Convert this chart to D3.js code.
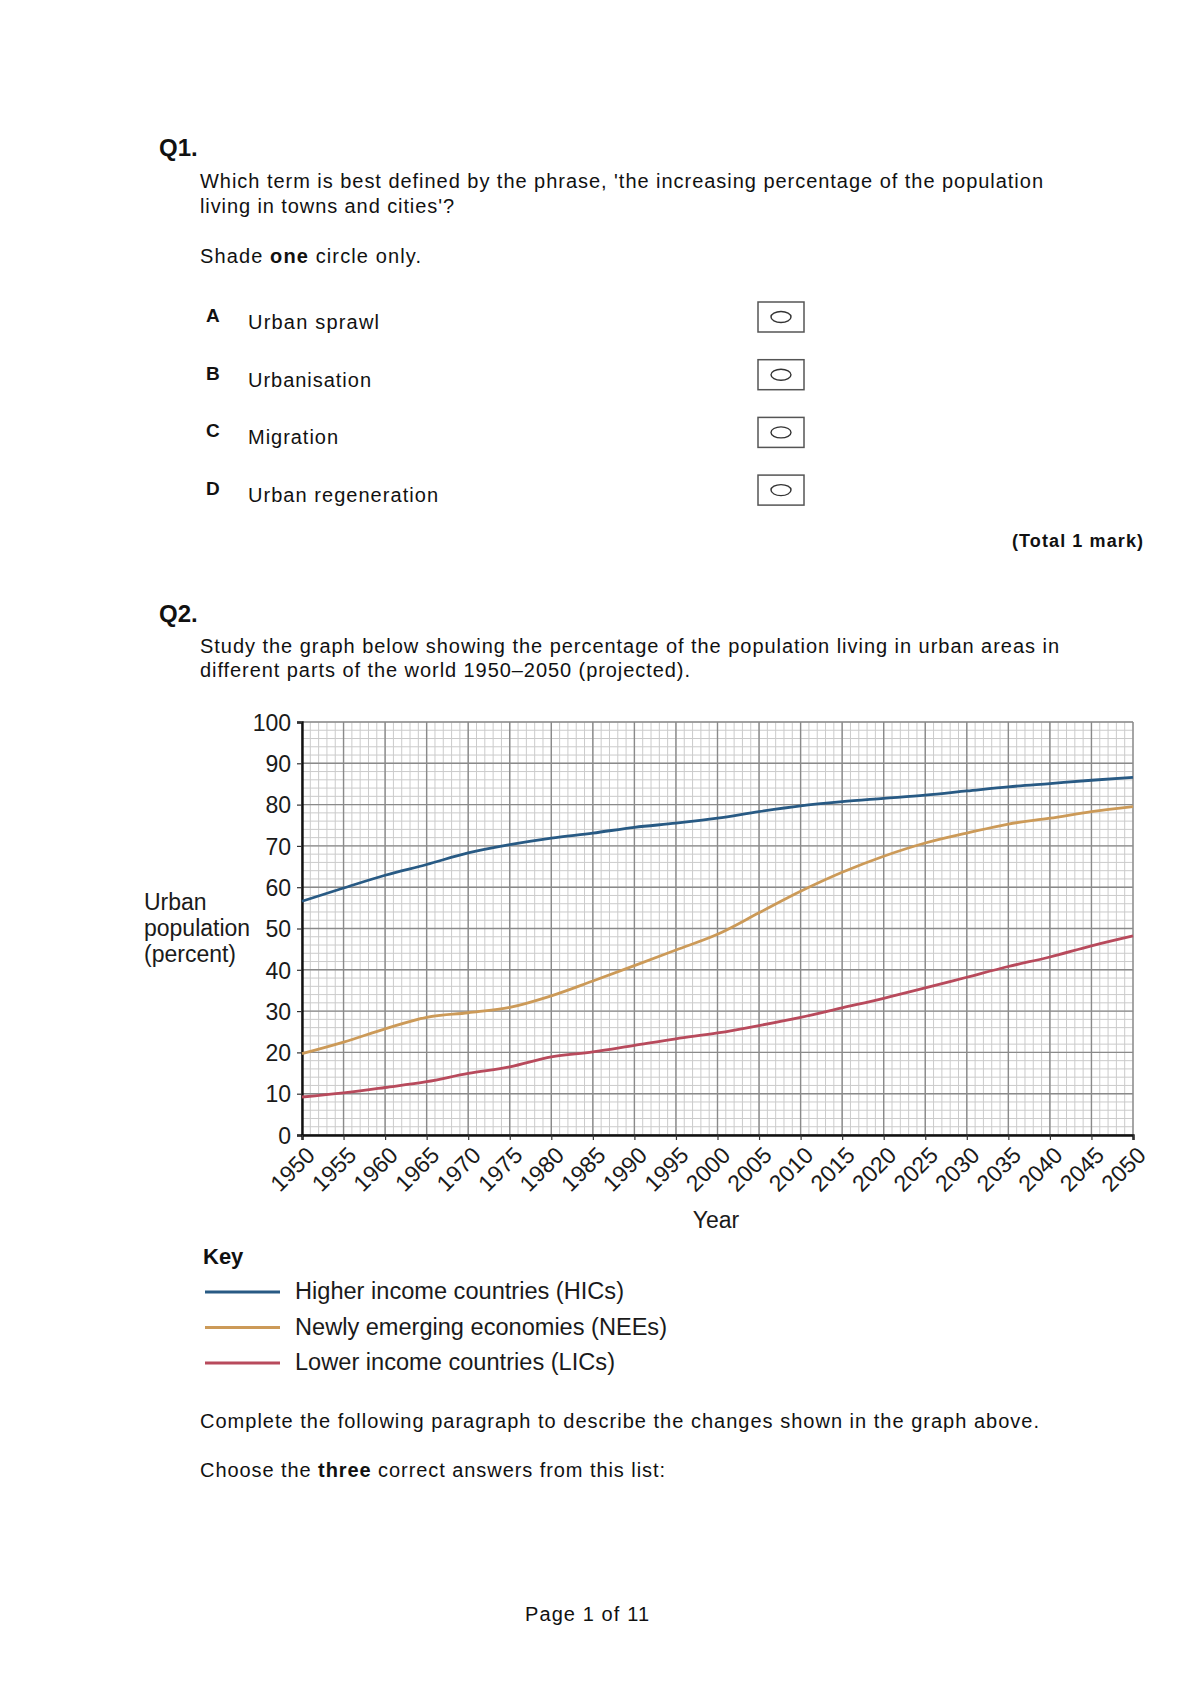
<!DOCTYPE html>
<meta charset="utf-8">
<style>
    body { margin: 0; background: #fff; }
    svg { display: block; }
    text { font-family: "Liberation Sans", Arial, sans-serif; fill: #111; }
    .q { font-size: 20px; }
    .head { font-size: 24px; font-weight: bold; }
    .tick-label { font-size: 23px; fill: #1a1a1a; }
    .grid-minor { stroke: #cbcbcb; stroke-width: 1; }
    .grid-major { stroke: #8a8a8a; stroke-width: 1.4; }
    .series { fill: none; stroke-width: 2.8; stroke-linejoin: round; }
</style>
<svg width="1200" height="1696"></svg>
<script src="https://d3js.org/d3.v7.min.js"></script>
<script>

    // chart data
    var years = [1950, 1955, 1960, 1965, 1970, 1975, 1980, 1985, 1990, 1995, 2000,
                 2005, 2010, 2015, 2020, 2025, 2030, 2035, 2040, 2045, 2050];
    var hics = [56.6, 59.8, 62.9, 65.5, 68.3, 70.3, 71.9, 73.1, 74.5, 75.5, 76.7,
                78.3, 79.7, 80.7, 81.5, 82.3, 83.3, 84.3, 85.1, 85.9, 86.6];
    var nees = [19.7, 22.5, 25.7, 28.5, 29.6, 30.9, 33.7, 37.3, 41.0, 44.8, 48.6,
                53.8, 59.0, 63.6, 67.5, 70.7, 73.1, 75.3, 76.7, 78.3, 79.5];
    var lics = [9.2, 10.2, 11.5, 12.9, 14.9, 16.5, 18.9, 20.1, 21.7, 23.3, 24.7,
                26.5, 28.5, 30.8, 33.1, 35.6, 38.2, 40.8, 43.1, 45.8, 48.2];
    var seriesNames = ["Higher income countries (HICs)", "Newly emerging economies (NEEs)", "Lower income countries (LICs)"];
    var seriesColors = ["#285a84", "#cc9a58", "#b84a5c"];
    var yTicks = [0, 10, 20, 30, 40, 50, 60, 70, 80, 90, 100];

    var options = ["Urban sprawl", "Urbanisation", "Migration", "Urban regeneration"];
    var optionLetters = ["A", "B", "C", "D"];

    var svg = d3.select("svg");

    // helper: text line stretched to a measured width
    function line(x, y, parts, width, cls) {
        var t = svg.append("text").attr("class", cls || "q").attr("x", x).attr("y", y);
        parts.forEach(function (p) {
            var s = t.append("tspan").text(p[0]);
            if (p[1]) s.style("font-weight", "bold");
        });
        if (width) t.attr("textLength", width).attr("lengthAdjust", "spacing");
        return t;
    }

    // ---- Q1 ----
    line(159, 156, [["Q1."]], null, "head");
    line(200, 188, [["Which term is best defined by the phrase, 'the increasing percentage of the population"]], 843);
    line(200, 213, [["living in towns and cities'?"]], 254);
    line(200, 263, [["Shade "], ["one", 1], [" circle only."]], 221);

    options.forEach(function (o, i) {
        var y = 329 + i * 57.5;
        svg.append("text").attr("x", 206).attr("y", y - 7)
            .style("font-size", "19px").style("font-weight", "bold").text(optionLetters[i]);
        svg.append("text").attr("class", "q").attr("x", 248).attr("y", y).text(o)
            .attr("textLength", [131, 123, 90, 190][i]).attr("lengthAdjust", "spacing");
        var by = 302 + i * 57.7;
        svg.append("rect").attr("x", 758).attr("y", by).attr("width", 46).attr("height", 30)
            .attr("fill", "#fff").attr("stroke", "#555").attr("stroke-width", 1.5);
        svg.append("ellipse").attr("cx", 781).attr("cy", by + 15).attr("rx", 10).attr("ry", 5.5)
            .attr("fill", "none").attr("stroke", "#333").attr("stroke-width", 1.4);
    });

    line(1012, 547, [["(Total 1 mark)", 1]], 131).style("font-size", "18px");

    // ---- Q2 ----
    line(159, 622, [["Q2."]], null, "head");
    line(200, 653, [["Study the graph below showing the percentage of the population living in urban areas in"]], 859);
    line(200, 677, [["different parts of the world 1950\u20132050 (projected)."]], 490);

    // ---- chart ----
    var x = d3.scaleLinear().domain([1950, 2050]).range([302, 1133]);
    var y = d3.scaleLinear().domain([0, 100]).range([1135, 722]);

    var g = svg.append("g");

    g.selectAll(".vminor").data(d3.range(1950, 2051, 1)).enter().append("line")
        .attr("class", "grid-minor")
        .attr("x1", function (d) { return x(d); }).attr("x2", function (d) { return x(d); })
        .attr("y1", y(0)).attr("y2", y(100));
    g.selectAll(".hminor").data(d3.range(0, 101, 2)).enter().append("line")
        .attr("class", "grid-minor")
        .attr("y1", function (d) { return y(d); }).attr("y2", function (d) { return y(d); })
        .attr("x1", x(1950)).attr("x2", x(2050));
    g.selectAll(".vmajor").data(years).enter().append("line")
        .attr("class", "grid-major")
        .attr("x1", function (d) { return x(d); }).attr("x2", function (d) { return x(d); })
        .attr("y1", y(0)).attr("y2", y(100));
    g.selectAll(".hmajor").data(yTicks).enter().append("line")
        .attr("class", "grid-major")
        .attr("y1", function (d) { return y(d); }).attr("y2", function (d) { return y(d); })
        .attr("x1", x(1950)).attr("x2", x(2050));

    var yAxis = g.append("g").attr("transform", "translate(" + x(1950) + ",0)")
        .call(d3.axisLeft(y).tickValues(yTicks).tickSize(5).tickPadding(6));
    var xAxis = g.append("g").attr("transform", "translate(0," + y(0) + ")")
        .call(d3.axisBottom(x).tickValues(years).tickFormat(d3.format("d")).tickSize(5).tickPadding(4));

    [yAxis, xAxis].forEach(function (a) {
        a.select(".domain").attr("stroke", "#111").attr("stroke-width", 2.4);
        a.selectAll(".tick line").attr("stroke", "#333").attr("stroke-width", 1.2);
        a.selectAll("text").attr("class", "tick-label").attr("fill", "#1a1a1a");
    });
    yAxis.selectAll("text").attr("dy", "0.36em");
    xAxis.selectAll("text")
        .attr("text-anchor", "end")
        .attr("dy", "0.35em")
        .attr("transform", "translate(8,16) rotate(-45)")
        .attr("y", 0).attr("x", 0);

    var data = [hics, nees, lics];
    var path = d3.line()
        .x(function (d, i) { return x(years[i]); })
        .y(function (d) { return y(d); })
        .curve(d3.curveMonotoneX);
    g.selectAll(".series").data(data).enter().append("path")
        .attr("class", "series")
        .attr("stroke", function (d, i) { return seriesColors[i]; })
        .attr("d", path);

    // axis titles
    ["Urban", "population", "(percent)"].forEach(function (s, i) {
        svg.append("text").attr("class", "tick-label").attr("x", 144).attr("y", 910 + i * 26).text(s);
    });
    svg.append("text").attr("class", "tick-label").attr("x", 716).attr("y", 1228)
        .attr("text-anchor", "middle").text("Year");

    // key
    svg.append("text").attr("x", 203).attr("y", 1264)
        .style("font-size", "22px").style("font-weight", "bold").text("Key");
    seriesNames.forEach(function (n, i) {
        var ly = 1292 + i * 35.5;
        svg.append("line").attr("x1", 205).attr("x2", 280).attr("y1", ly).attr("y2", ly)
            .attr("stroke", seriesColors[i]).attr("stroke-width", 2.8);
        svg.append("text").attr("class", "tick-label").attr("x", 295).attr("y", ly + 7).text(n)
            .attr("textLength", [329, 372, 320][i]).attr("lengthAdjust", "spacingAndGlyphs");
    });

    // ---- following text ----
    line(200, 1428, [["Complete the following paragraph to describe the changes shown in the graph above."]], 839);
    line(200, 1477, [["Choose the "], ["three", 1], [" correct answers from this list:"]], 465);
    line(525, 1621, [["Page 1 of 11"]], 124);

</script>
